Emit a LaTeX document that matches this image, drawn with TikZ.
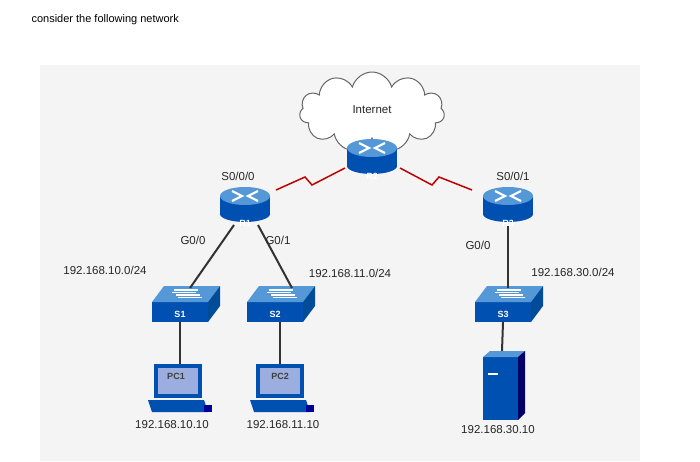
\documentclass[tikz,border=0pt]{standalone}
\usetikzlibrary{shapes.symbols}
\usepackage{fontspec}
\setmainfont{Liberation Sans}
\begin{document}
\begin{tikzpicture}[x=1pt,y=-1pt,
  lbl/.style={font=\fontsize{11.5}{13}\selectfont,text=black!85},
  dev/.style={font=\bfseries\fontsize{9}{11}\selectfont,text=white},
  link/.style={line width=2pt,black!80},
  serial/.style={line width=1.5pt,red!75!black}]
\useasboundingbox (0,0) rectangle (700,461);
\fill[white] (0,0) rectangle (700,461);
\fill[blue!4!gray!8] (40,65) rectangle (640,461);
\node[anchor=west,font=\fontsize{11}{13}\selectfont] (title) at (28,20) {consider the following network};
% cloud
\node[cloud, cloud puffs=11, draw=black!60, line width=1pt, fill=white, minimum width=145pt, minimum height=80pt, aspect=2] (cloud) at (372,112) {};
\node[lbl] (inet) at (372,110) {Internet};
% routers
\tikzset{router/.pic={
  \fill[blue!55!cyan!70!black] (-25,0) rectangle (25,18);
  \fill[blue!55!cyan!70!black] (0,18) ellipse (25 and 8);
  \fill[cyan!60!blue!70] (0,0) ellipse (25 and 9);
  \draw[white,line width=2.2pt] (-13,-5) -- (-3,0) -- (-13,5) (13,-5) -- (3,0) -- (13,5);
}}
\pic at (372,148) {router};
\node[dev] (R2) at (372,176) {R2};
\pic at (245,196) {router};
\node[dev] (R1) at (245,223) {R1};
\pic at (508,196) {router};
\node[dev] (R3) at (508,223) {R3};
% switches
\tikzset{switch/.pic={
  \fill[blue!55!cyan!70!black] (-28,4) -- (28,4) -- (28,24) -- (-28,24) -- cycle;
  \fill[cyan!60!blue!70] (-28,4) -- (-16,-12) -- (40,-12) -- (28,4) -- cycle;
  \fill[blue!50!cyan!60!black] (28,4) -- (40,-12) -- (40,8) -- (28,24) -- cycle;
  \draw[white,line width=1.2pt] (-6,-8) -- (18,-8) (-4,-3) -- (20,-3) (-8,-5.5)--(16,-5.5) (-2,-0.5)--(22,-0.5);
}}
\pic at (180,298) {switch};
\node[dev] (S1) at (180,314) {S1};
\pic at (275,298) {switch};
\node[dev] (S2) at (275,314) {S2};
\pic at (503,298) {switch};
\node[dev] (S3) at (503,314) {S3};
% PCs
\tikzset{pc/.pic={
  \fill[blue!55!cyan!70!black] (-24,-26) rectangle (24,8);
  \fill[cyan!40!blue!40] (-20,-22) rectangle (20,4);
  \fill[blue!55!cyan!70!black] (-30,10) -- (26,10) -- (30,22) -- (-26,22) -- cycle;
  \fill[blue!60!black] (26,15) rectangle (34,22);
}}
\pic at (178,390) {pc};
\node[font=\bfseries\fontsize{9}{11}\selectfont,text=black!75] (PC1) at (176,376) {PC1};
\pic at (280,390) {pc};
\node[font=\bfseries\fontsize{9}{11}\selectfont,text=black!75] (PC2) at (280,376) {PC2};
% server
\fill[blue!55!cyan!70!black] (483,357) rectangle (518,420);
\fill[cyan!60!blue!70] (483,357) -- (490,351) -- (525,351) -- (518,357) -- cycle;
\fill[blue!40!black] (518,357) -- (525,351) -- (525,413) -- (518,420) -- cycle;
\draw[white,line width=2pt] (488,374) -- (498,374);
\coordinate (srv) at (502,351);
% links
\draw[link] (234,225) -- (190,288);
\draw[link] (258,225) -- (292,288);
\draw[link] (508,226) -- (508,288);
\draw[link] (180,322) -- (180,364);
\draw[link] (280,322) -- (280,364);
\draw[link] (503,322) -- (srv);
\draw[serial] (276,190) -- (305,177) -- (312,185) -- (345,168);
\draw[serial] (400,168) -- (432,185) -- (439,177) -- (472,190);
% labels
\node[lbl] at (238,176) {S0/0/0};
\node[lbl] at (513,176) {S0/0/1};
\node[lbl] at (193,240) {G0/0};
\node[lbl] at (278,240) {G0/1};
\node[lbl] at (478,245) {G0/0};
\node[lbl] at (105,270) {192.168.10.0/24};
\node[lbl] at (350,273) {192.168.11.0/24};
\node[lbl] at (573,272) {192.168.30.0/24};
\node[lbl] at (172,425) {192.168.10.10};
\node[lbl] at (283,425) {192.168.11.10};
\node[lbl] at (498,430) {192.168.30.10};
\end{tikzpicture}
\end{document}
